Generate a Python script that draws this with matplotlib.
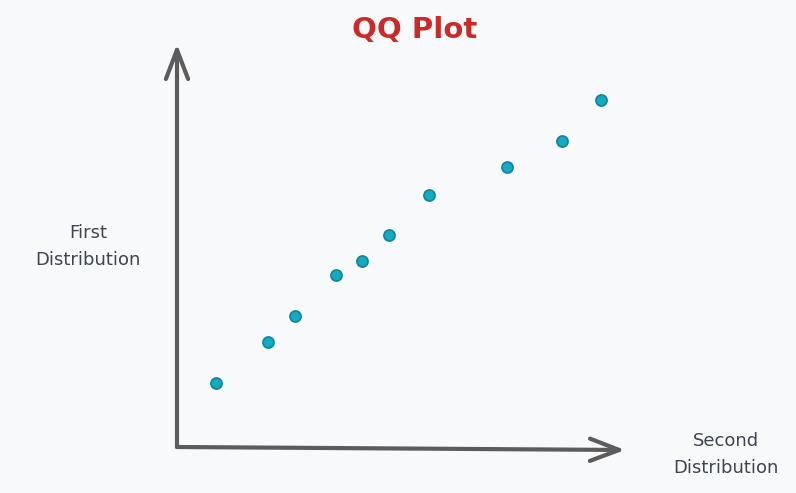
import numpy as np
import matplotlib.pyplot as plt

# quantiles (arbitrary units)
second_dist = [3.9, 9.1, 11.8, 15.9, 18.5, 21.2, 25.2, 33.0, 38.5, 42.4]
first_dist = [6.4, 10.5, 13.1, 17.2, 18.6, 21.2, 25.2, 28.0, 30.6, 34.7]

title = 'QQ Plot'
x_label = 'Second\nDistribution'
y_label = 'First\nDistribution'

bg = '#f8f9fa'
axis_col = '#5c5c5c'
text_col = '#3f4550'

fig = plt.figure(figsize=(7.96, 4.93), dpi=100, facecolor=bg)
ax = fig.add_axes([0, 0, 1, 1])
ax.set_facecolor(bg)
ax.set_xlim(-17.7, 61.9)
ax.set_ylim(-4.6, 44.7)
ax.axis('off')

# hand drawn looking axes with open arrow heads
arrow = dict(arrowstyle='->,head_length=2.1,head_width=0.8',
             color=axis_col, lw=3, capstyle='round', shrinkA=0, shrinkB=0)
ax.annotate('', xy=(0, 40.3), xytext=(0, 0), arrowprops=arrow)
ax.annotate('', xy=(44.8, -0.3), xytext=(0, 0), arrowprops=arrow)

# the points
ax.plot(second_dist, first_dist, 'o', ms=8, mfc='#15aabf', mec='#0c8599',
        mew=1.2, zorder=3)

ax.text(0.521, 0.94, title, transform=ax.transAxes, ha='center',
        va='center', fontsize=21, color='#c92a2a', fontweight='semibold')
ax.text(0.111, 0.5, y_label, transform=ax.transAxes, ha='center',
        va='center', fontsize=13, color=text_col, linespacing=1.65)
ax.text(0.912, 0.078, x_label, transform=ax.transAxes, ha='center',
        va='center', fontsize=13, color=text_col, linespacing=1.65)

plt.savefig('out.png', dpi=100, facecolor=bg)
